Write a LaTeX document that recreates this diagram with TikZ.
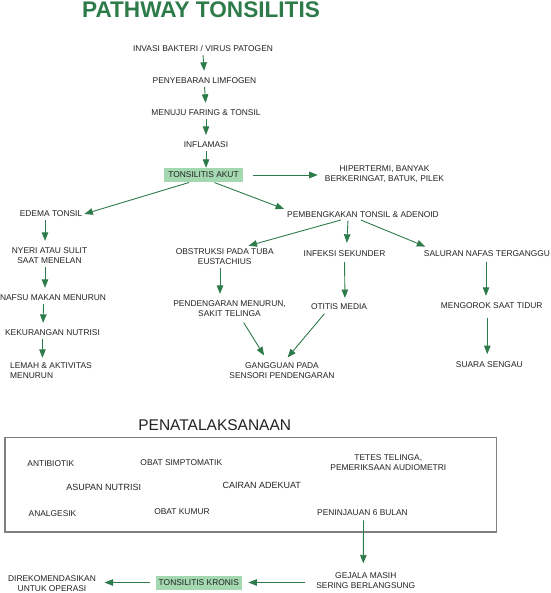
\documentclass[tikz,border=0pt]{standalone}
\usepackage{fontspec}
\setmainfont{Liberation Sans}
\usetikzlibrary{arrows.meta}
\definecolor{pathgreen}{HTML}{2E7B4A}
\definecolor{pathfill}{HTML}{A3D8B1}
\definecolor{txtgray}{HTML}{222222}
\tikzset{
	txt/.style={font=\fontsize{8.4}{10}\selectfont, text=txtgray, inner sep=2pt, align=center},
	bigtxt/.style={txt, font=\fontsize{9}{11}\selectfont},
	hl/.style={txt, fill=pathfill, minimum height=14pt},
	arr/.style={draw=pathgreen, line width=0.9pt, -{Triangle[length=8.5pt,width=6.5pt]}, shorten >=5pt, shorten <=1pt}
}

\begin{document}
\begin{tikzpicture}[x=1pt,y=-1pt]
	\useasboundingbox (0,0) rectangle (550,593);
	
	\node[font=\fontsize{22.6}{25}\selectfont\bfseries, text=pathgreen, inner sep=0pt] (title) at (201,10) {PATHWAY TONSILITIS};
	
	\node[txt] (invasi) at (203,49) {INVASI BAKTERI / VIRUS PATOGEN};
	\node[txt] (limfogen) at (204.5,81) {PENYEBARAN LIMFOGEN};
	\node[txt] (faring) at (206,113) {MENUJU FARING \& TONSIL};
	\node[txt] (inflamasi) at (206,145) {INFLAMASI};
	\node[hl, minimum width=79pt] (akut) at (203.5,175) {TONSILITIS AKUT};
	\node[txt] (hiper) at (384.5,174) {HIPERTERMI, BANYAK\\BERKERINGAT, BATUK, PILEK};
	
	\node[txt] (edema) at (51,214) {EDEMA TONSIL};
	\node[txt] (nyeri) at (49.5,256) {NYERI ATAU SULIT\\SAAT MENELAN};
	\node[txt] (nafsu) at (53,298) {NAFSU MAKAN MENURUN};
	\node[txt] (kurang) at (52.5,333) {KEKURANGAN NUTRISI};
	\node[txt, anchor=west, align=left] (lemah) at (8,371) {LEMAH \& AKTIVITAS\\MENURUN};
	
	\node[txt] (bengkak) at (363,214.5) {PEMBENGKAKAN TONSIL \& ADENOID};
	\node[txt] (obstruksi) at (224.7,257) {OBSTRUKSI PADA TUBA\\EUSTACHIUS};
	\node[txt] (infeksi) at (344.5,254) {INFEKSI SEKUNDER};
	\node[txt] (saluran) at (487,254) {SALURAN NAFAS TERGANGGU};
	\node[txt] (dengar) at (229.5,309) {PENDENGARAN MENURUN,\\SAKIT TELINGA};
	\node[txt] (otitis) at (339,306.7) {OTITIS MEDIA};
	\node[txt] (mengorok) at (491.7,306) {MENGOROK SAAT TIDUR};
	\node[txt] (sengau) at (489.3,364.3) {SUARA SENGAU};
	\node[txt] (gangguan) at (282,370.7) {GANGGUAN PADA\\SENSORI PENDENGARAN};
	
	\draw[arr] (invasi.south) -- (limfogen.north);
	\draw[arr] (limfogen.south) -- (faring.north);
	\draw[arr] (faring.south) -- (inflamasi.north);
	\draw[arr, shorten >=0pt] (inflamasi.south) -- (inflamasi.south |- akut.north);
	\draw[arr, shorten <=10pt] (akut.east) -- (hiper.west |- akut.east);
	\draw[arr, shorten >=0pt] ([xshift=-13.5pt]akut.south) -- (edema.east);
	\draw[arr, shorten >=1pt] ([xshift=10pt]akut.south) -- (bengkak.north west);
	
	\draw[arr] ([xshift=-6pt]edema.south) -- ([xshift=-4.5pt]nyeri.north);
	\draw[arr] ([xshift=-4.5pt]nyeri.south) -- ([xshift=-8pt]nafsu.north);
	\draw[arr] ([xshift=-9.5pt]nafsu.south) -- ([xshift=-9.5pt]kurang.north);
	\draw[arr, shorten >=3pt] ([xshift=-10pt]kurang.south) -- ([xshift=-8.5pt]lemah.north);
	
	\draw[arr, shorten >=4pt] ([xshift=-21pt]bengkak.south) -- ([xshift=20pt]obstruksi.north);
	\draw[arr, shorten >=6pt] ([xshift=-15pt]bengkak.south) -- ([xshift=2pt]infeksi.north);
	\draw[arr, shorten >=6pt] ([xshift=-3pt]bengkak.south) -- ([xshift=9pt]saluran.north west);
	\draw[arr] ([xshift=-4.7pt]obstruksi.south) -- ([xshift=-9.5pt]dengar.north);
	\draw[arr, shorten <=3pt, shorten >=3.5pt] (infeksi.south) -- ([xshift=6pt]otitis.north);
	\draw[arr, shorten <=3pt] ([xshift=-1pt]saluran.south) -- ([xshift=-5.7pt]mengorok.north);
	\draw[arr, shorten <=6.5pt] ([xshift=-4.4pt]mengorok.south) -- ([xshift=-2pt]sengau.north);
	\draw[arr, shorten <=4pt, shorten >=6pt] ([xshift=12pt]dengar.south) -- ([xshift=-14.7pt]gangguan.north);
	\draw[arr, shorten <=2.5pt, shorten >=4pt] ([xshift=-13pt]otitis.south) -- ([xshift=3pt]gangguan.north);
	
	\node[font=\fontsize{15.5}{18}\selectfont, text=txtgray, inner sep=0pt] (penata) at (214.7,425) {PENATALAKSANAAN};
	\draw[gray, line width=1.3pt] (5,437.7) rectangle (496.7,532);
	
	\node[txt] (antibiotik) at (50.8,464) {ANTIBIOTIK};
	\node[txt] (simptomatik) at (181.3,462.7) {OBAT SIMPTOMATIK};
	\node[txt] (tetes) at (388.3,462.3) {TETES TELINGA,\\PEMERIKSAAN AUDIOMETRI};
	\node[bigtxt] (asupan) at (103.7,487.7) {ASUPAN NUTRISI};
	\node[bigtxt] (cairan) at (261.8,485.7) {CAIRAN ADEKUAT};
	\node[txt] (analgesik) at (52.5,514) {ANALGESIK};
	\node[txt] (kumur) at (182,511.7) {OBAT KUMUR};
	\node[txt] (tinjau) at (362.5,512.3) {PENINJAUAN 6 BULAN};
	
	\node[txt] (gejala) at (365.8,581) {GEJALA MASIH\\SERING BERLANGSUNG};
	\node[hl, minimum width=85.7pt] (kronis) at (198.8,582.5) {TONSILITIS KRONIS};
	\node[txt] (operasi) at (52,584) {DIREKOMENDASIKAN\\UNTUK OPERASI};
	
	\draw[arr, shorten <=3pt, shorten >=7.5pt] ([xshift=1pt]tinjau.south) -- ([xshift=-2.5pt]gejala.north);
	\draw[arr, shorten <=9pt, shorten >=6.5pt] (gejala.west |- kronis.east) -- (kronis.east);
	\draw[arr, shorten <=6pt, shorten >=6.5pt] (kronis.west) -- (kronis.west -| operasi.east);
\end{tikzpicture}
\end{document}
